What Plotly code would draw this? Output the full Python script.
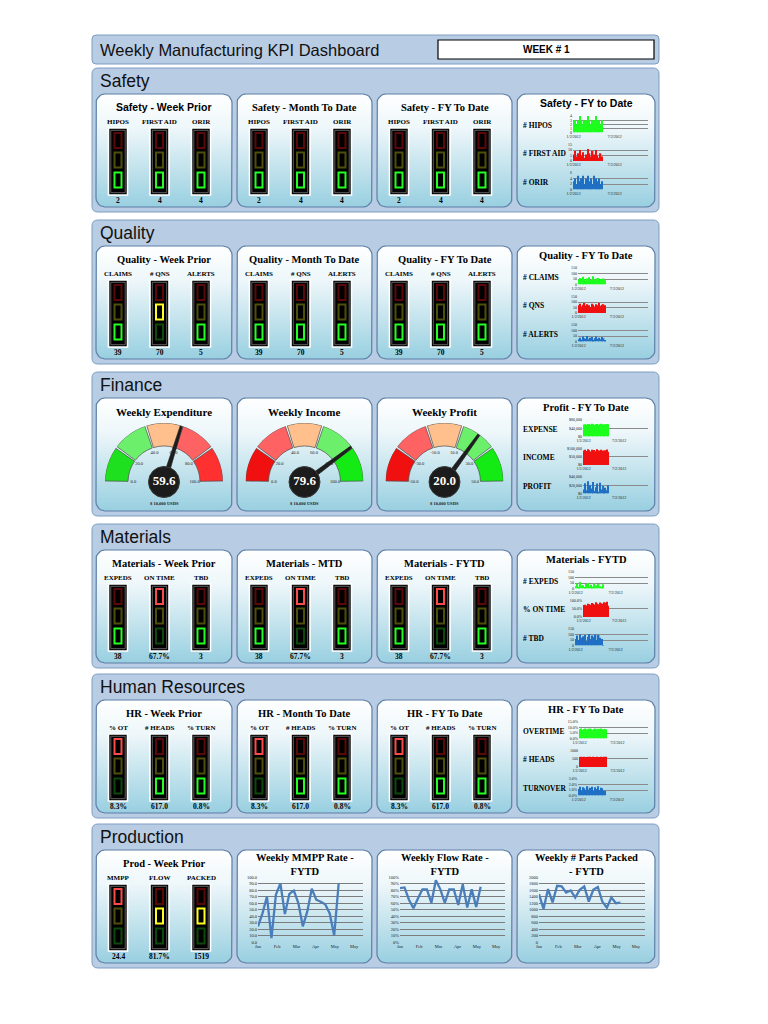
import numpy as np
import pandas as pd
import plotly.graph_objects as go

W, H = 768, 1024
SERIF = "Liberation Serif, Times New Roman, serif"
SANS = "Liberation Sans, Arial, sans-serif"

# ======================= DATA =======================
dashboard_title = "Weekly Manufacturing KPI Dashboard"
week_text = "WEEK # 1"
section_names = ["Safety", "Quality", "Finance", "Materials", "Human Resources", "Production"]

# traffic-light panels
safety_titles = ["Safety - Week Prior", "Safety - Month To Date", "Safety - FY To Date"]
safety_kpis = ["HIPOS", "FIRST AID", "ORIR"]
safety_values = [["2", "4", "4"], ["2", "4", "4"], ["2", "4", "4"]]
safety_status = [["G", "G", "G"], ["G", "G", "G"], ["G", "G", "G"]]

quality_titles = ["Quality - Week Prior", "Quality - Month To Date", "Quality - FY To Date"]
quality_kpis = ["CLAIMS", "# QNS", "ALERTS"]
quality_values = [["39", "70", "5"], ["39", "70", "5"], ["39", "70", "5"]]
quality_status = [["G", "Y", "G"], ["G", "G", "G"], ["G", "G", "G"]]

materials_titles = ["Materials - Week Prior", "Materials - MTD", "Materials - FYTD"]
materials_kpis = ["EXPEDS", "ON TIME", "TBD"]
materials_values = [["38", "67.7%", "3"], ["38", "67.7%", "3"], ["38", "67.7%", "3"]]
materials_status = [["G", "R", "G"], ["G", "R", "G"], ["G", "R", "G"]]

hr_titles = ["HR - Week Prior", "HR - Month To Date", "HR - FY To Date"]
hr_kpis = ["% OT", "# HEADS", "% TURN"]
hr_values = [["8.3%", "617.0", "0.8%"], ["8.3%", "617.0", "0.8%"], ["8.3%", "617.0", "0.8%"]]
hr_status = [["R", "G", "G"], ["R", "G", "G"], ["R", "G", "G"]]

prod_titles = ["Prod - Week Prior"]
prod_kpis = ["MMPP", "FLOW", "PACKED"]
prod_values = [["24.4", "81.7%", "1519"]]
prod_status = [["R", "Y", "Y"]]

# gauges
gauge_titles = ["Weekly Expenditure", "Weekly Income", "Weekly Profit"]
gauge_values = [59.6, 79.6, 20.0]
gauge_min = [0, 0, -50]
gauge_max = [100, 100, 50]
gauge_unit = "$ 10,000 USDS"

# weekly FYTD series (19 weeks from 2012-01-02)
week_dates = pd.date_range("2012-01-02", periods=19, freq="7D")

safety_fy_title = "Safety - FY to Date"
safety_fy_labels = ["# HIPOS", "# FIRST AID", "# ORIR"]
safety_hipos = [3, 3, 2, 3, 4, 3, 2, 3, 3, 4, 3, 2, 3, 3, 4, 3, 3, 2, 3]
safety_first_aid = [6, 9, 4, 7, 10, 5, 8, 3, 6, 11, 7, 4, 9, 6, 10, 5, 3, 7, 4]
safety_orir = [3, 4, 2, 5, 3, 4, 5, 2, 4, 5, 3, 4, 2, 5, 4, 3, 4, 2, 3]

quality_fy_title = "Quality - FY To Date"
quality_fy_labels = ["# CLAIMS", "# QNS", "# ALERTS"]
quality_claims = [45, 60, 40, 70, 50, 35, 55, 65, 40, 50, 75, 45, 55, 60, 40, 50, 45, 55, 39]
quality_qns = [70, 85, 60, 75, 90, 65, 80, 70, 55, 85, 75, 60, 80, 70, 90, 65, 75, 80, 70]
quality_alerts = [20, 35, 15, 45, 30, 25, 50, 20, 35, 40, 15, 30, 45, 25, 35, 20, 40, 30, 5]

profit_fy_title = "Profit - FY To Date"
profit_fy_labels = ["EXPENSE", "INCOME", "PROFIT"]
fin_expense = [58000, 60000, 57000, 61000, 59000, 58000, 62000, 60000, 57000, 59000,
               61000, 58000, 60000, 62000, 59000, 57000, 60000, 61000, 59600]
fin_income = [88000, 92000, 85000, 95000, 90000, 82000, 93000, 87000, 91000, 84000,
              96000, 89000, 86000, 92000, 88000, 83000, 90000, 94000, 79600]
fin_profit = [10000, 25000, 8000, 30000, 5000, 20000, 12000, 28000, 6000, 15000,
              24000, 4000, 26000, 10000, 18000, 3000, 14000, 8000, 20000]

materials_fy_title = "Materials - FYTD"
materials_fy_labels = ["# EXPEDS", "% ON TIME", "# TBD"]
mat_expeds = [20, 45, 15, 60, 25, 30, 10, 40, 50, 20, 35, 15, 45, 25, 30, 40, 20, 10, 38]
mat_on_time = [0.72, 0.75, 0.70, 0.80, 0.78, 0.74, 0.85, 0.80, 0.76, 0.90,
               0.82, 0.78, 0.88, 0.84, 0.80, 0.90, 0.86, 0.92, 0.677]
mat_tbd = [60, 90, 50, 100, 70, 85, 95, 40, 80, 105, 60, 90, 75, 100, 50, 95, 70, 60, 3]

hr_fy_title = "HR - FY To Date"
hr_fy_labels = ["OVERTIME", "# HEADS", "TURNOVER"]
hr_overtime = [0.085, 0.090, 0.080, 0.087, 0.092, 0.083, 0.088, 0.090, 0.085, 0.080,
               0.087, 0.090, 0.084, 0.088, 0.086, 0.090, 0.083, 0.087, 0.083]
hr_heads = [610, 615, 605, 620, 612, 608, 618, 614, 606, 616, 611, 609, 619, 613, 607, 617, 612, 615, 617]
hr_turnover = [0.012, 0.016, 0.009, 0.015, 0.013, 0.010, 0.017, 0.011, 0.014, 0.016,
               0.008, 0.015, 0.012, 0.017, 0.010, 0.014, 0.013, 0.009, 0.008]

# production FYTD line charts
prod_line_titles = ["Weekly MMPP Rate -<br>FYTD", "Weekly Flow Rate -<br>FYTD", "Weekly # Parts Packed<br>- FYTD"]
mmpp_rate = [24, 44, 70, 6, 73, 90, 43, 74, 79, 60, 24, 47, 82, 65, 62, 58, 44, 10, 90]
flow_rate = [0.83, 0.84, 0.65, 0.52, 0.67, 0.81, 0.81, 0.60, 0.95, 0.81, 0.60, 0.81,
             0.81, 0.57, 0.89, 0.53, 0.81, 0.54, 0.85]
parts_packed = [1477, 1015, 1630, 1218, 1730, 1710, 1523, 1585, 1368, 1606,
                1710, 1244, 1606, 1690, 1244, 1057, 1368, 1192, 1210]

# ======================= LAYOUT HELPERS =======================
SEC_TOPS = [68, 220, 372, 524, 674, 824]
SEC_H = 144
PANEL_X = [(96, 232), (237, 372), (377, 512), (517, 655)]

fig = go.Figure()
shapes, annotations = [], []
layout = {}


def fx(px):
    return px / W


def fy(py):
    return 1 - py / H


def rr_path(x0, y0, x1, y1, r):
    return (f"M{x0+r},{y0} L{x1-r},{y0} Q{x1},{y0} {x1},{y0+r} L{x1},{y1-r} "
            f"Q{x1},{y1} {x1-r},{y1} L{x0+r},{y1} Q{x0},{y1} {x0},{y1-r} "
            f"L{x0},{y0+r} Q{x0},{y0} {x0+r},{y0} Z")


def rr_points(x0, y0, x1, y1, r, n=7):
    xs, ys = [], []
    for cx, cy, a0, a1 in [(x1 - r, y0 + r, -90, 0), (x1 - r, y1 - r, 0, 90),
                           (x0 + r, y1 - r, 90, 180), (x0 + r, y0 + r, 180, 270)]:
        for t in np.linspace(a0, a1, n):
            xs.append(cx + r * np.cos(np.radians(t)))
            ys.append(cy + r * np.sin(np.radians(t)))
    xs.append(xs[0])
    ys.append(ys[0])
    return xs, ys


def rect(x0, y0, x1, y1, fill, line, lw, layer="above"):
    shapes.append(dict(type="rect", xref="x", yref="y", x0=x0, y0=y0, x1=x1, y1=y1,
                       fillcolor=fill, line=dict(color=line, width=lw), layer=layer))


def ann(x, y, text, size, family=SERIF, color="#000", xanchor="center", bold=True):
    annotations.append(dict(x=x, y=y, xref="x", yref="y",
                            text=f"<b>{text}</b>" if bold else text, showarrow=False,
                            font=dict(size=size, family=family, color=color),
                            xanchor=xanchor, yanchor="middle"))


def panel(x0, y0, x1, y1):
    xs, ys = rr_points(x0, y0, x1, y1, 9)
    fig.add_trace(go.Scatter(
        x=xs, y=ys, mode="lines", fill="toself", hoverinfo="skip", showlegend=False,
        line=dict(color="#5d7fa6", width=1.2),
        fillgradient=dict(type="vertical", start=y0, stop=y1,
                          colorscale=[[0, "#ffffff"], [0.3, "#eef7fa"], [1, "#98cfe0"]]),
        xaxis="x", yaxis="y"))


LAMP_OFF = {"R": "#5c0808", "Y": "#4f4f0c", "G": "#0b4a0b"}
LAMP_ON = {"R": "#ff4a4a", "Y": "#ffff22", "G": "#22ff22"}


def light(cx, top, state):
    bw, bh = 19, 67
    rect(cx - bw / 2, top, cx + bw / 2, top + bh, "#000000", "#ffffff", 1.6)
    rect(cx - bw / 2 + 2.3, top + 2.3, cx + bw / 2 - 2.3, top + bh - 2.3,
         "rgba(0,0,0,0)", "#777777", 0.8)
    for k, c in enumerate("RYG"):
        cy = top + [12.5, 32, 52][k]
        col = LAMP_ON[c] if state == c else LAMP_OFF[c]
        rect(cx - 3.5, cy - 7.5, cx + 3.5, cy + 7.5, "#000000", col, 2)


# canvas axes (pixel coordinates)
layout["xaxis"] = dict(domain=[0, 1], range=[0, W], visible=False, fixedrange=True, automargin=False)
layout["yaxis"] = dict(domain=[0, 1], range=[H, 0], visible=False, fixedrange=True, automargin=False)

# header
shapes.append(dict(type="path", xref="x", yref="y", path=rr_path(92, 35, 659, 64, 4),
                   fillcolor="#b8cce4", line=dict(color="#7f9dc2", width=1), layer="below"))
rect(438, 40, 654, 59, "#ffffff", "#000000", 1.2, layer="below")
ann(98, 49.5, dashboard_title, 16.5, SANS, "#111", "left", bold=False)
ann(546, 49.5, week_text, 10, SANS, "#000", "center", bold=True)

# section boxes
for si, T in enumerate(SEC_TOPS):
    shapes.append(dict(type="path", xref="x", yref="y", path=rr_path(92, T, 659, T + SEC_H, 6),
                       fillcolor="#b8cce4", line=dict(color="#7f9dc2", width=1), layer="below"))
    ann(98, T + 13, section_names[si], 17.5, SANS, "#111", "left", bold=False)
    for (x0, x1) in PANEL_X:
        panel(x0, T + 26, x1, T + 139)

# traffic-light panels
light_groups = [
    (0, safety_titles, safety_kpis, safety_values, safety_status, [SANS, SERIF, SERIF]),
    (1, quality_titles, quality_kpis, quality_values, quality_status, [SERIF] * 3),
    (3, materials_titles, materials_kpis, materials_values, materials_status, [SERIF] * 3),
    (4, hr_titles, hr_kpis, hr_values, hr_status, [SERIF] * 3),
    (5, prod_titles, prod_kpis, prod_values, prod_status, [SERIF]),
]
for si, titles, kpis, vals, stats, fams in light_groups:
    T = SEC_TOPS[si]
    for pi, title in enumerate(titles):
        x0, x1 = PANEL_X[pi]
        ann((x0 + x1) / 2, T + 39, title, 10.5, fams[pi])
        for k in range(3):
            cx = x0 + [22, 63.5, 105][k]
            ann(cx, T + 54, kpis[k], 7, SERIF)
            light(cx, T + 60, stats[pi][k])
            ann(cx, T + 132.5, vals[pi][k], 7.5, SERIF)

# gauges
T = SEC_TOPS[2]
band_sets = [
    ["#1fe01f", "#6cf06c", "#ffc08e", "#ff6262", "#ff3030"],
    ["#f01010", "#ff6262", "#ffc08e", "#6cf06c", "#14ea14"],
    ["#f01010", "#ff6262", "#ffc08e", "#6cf06c", "#14ea14"],
]
for gi in range(3):
    x0, x1 = PANEL_X[gi]
    cx = (x0 + x1) / 2
    base_y = T + 110
    R = 59
    pk = "polar" if gi == 0 else f"polar{gi + 1}"
    layout[pk] = dict(
        domain=dict(x=[fx(cx - R), fx(cx + R)], y=[fy(base_y), fy(base_y - R)]),
        sector=[0, 180], bgcolor="rgba(0,0,0,0)",
        radialaxis=dict(visible=False, range=[0, 1]),
        angularaxis=dict(visible=False, rotation=180, direction="clockwise"))
    ann(cx, T + 40, gauge_titles[gi], 11, SERIF)
    lo, hi = gauge_min[gi], gauge_max[gi]
    tick_vals = np.linspace(lo, hi, 6)
    tick_theta = [(v - lo) / (hi - lo) * 180 for v in tick_vals]
    tick_text = [f"{v:.1f}" for v in tick_vals]
    fig.add_trace(go.Barpolar(
        r=[0.39] * 5, base=[0.61] * 5, theta=[18, 54, 90, 126, 162], width=[34] * 5,
        marker=dict(color=band_sets[gi], line=dict(color="#4a4a4a", width=0.7)),
        hoverinfo="skip", showlegend=False, subplot=pk))
    fig.add_trace(go.Scatterpolar(
        r=[0.52] * 6, theta=tick_theta, mode="text", text=tick_text, cliponaxis=False,
        textfont=dict(size=4.5, family=SERIF, color="#222"), hoverinfo="skip",
        showlegend=False, subplot=pk))
    v = gauge_values[gi]
    th = (v - lo) / (hi - lo) * 180
    fig.add_trace(go.Scatterpolar(
        r=[0.99, 0.99, 0.2, 0.2, 0.99], theta=[th - 1.2, th + 1.2, th + 11, th - 11, th - 1.2],
        mode="lines", fill="toself", fillcolor="#1e1e1e", line=dict(color="#1e1e1e", width=0.6),
        hoverinfo="skip", showlegend=False, subplot=pk, cliponaxis=False))
    fig.add_trace(go.Scatterpolar(
        r=[0], theta=[0], mode="markers+text", text=[f"<b>{v:.1f}</b>"],
        textposition="middle center", cliponaxis=False,
        marker=dict(size=31, color="#1c1c1c", line=dict(color="#3a3a3a", width=1)),
        textfont=dict(size=13, family=SERIF, color="#ffffff"),
        hoverinfo="skip", showlegend=False, subplot=pk))
    ann(cx, T + 131, gauge_unit, 4.5, SERIF, "#222")

# sparkline panels (column 4)
spark_groups = [
    (0, safety_fy_title, SANS, safety_fy_labels, [safety_hipos, safety_first_aid, safety_orir],
     [4, 15, 6], [1, 5, 2], ["d", "d", "d"], ["", "", ""], [573, 573, 573]),
    (1, quality_fy_title, SERIF, quality_fy_labels, [quality_claims, quality_qns, quality_alerts],
     [150, 150, 150], [50, 50, 50], ["d", "d", "d"], ["", "", ""], [578, 578, 578]),
    (2, profit_fy_title, SERIF, profit_fy_labels, [fin_expense, fin_income, fin_profit],
     [80000, 100000, 40000], [40000, 50000, 20000], [",.0f"] * 3, ["$"] * 3, [583, 583, 583]),
    (3, materials_fy_title, SERIF, materials_fy_labels, [mat_expeds, mat_on_time, mat_tbd],
     [150, 1.0, 150], [50, 0.5, 50], ["d", ".1%", "d"], ["", "", ""], [575, 583, 575]),
    (4, hr_fy_title, SERIF, hr_fy_labels, [hr_overtime, hr_heads, hr_turnover],
     [0.15, 1000, 0.03], [0.05, 500, 0.01], [".1%", "d", ".1%"], ["", "", ""], [579, 579, 578]),
]
spark_colors = ["#1cff1c", "#f01010", "#1f6fc4"]
DAY = 86400000
ax = 2
for si, title, fam, labels, series, ymaxs, dticks, fmts, prefs, lefts in spark_groups:
    T = SEC_TOPS[si]
    x0, x1 = PANEL_X[3]
    ann((x0 + x1) / 2, T + 35, title, 10.5, fam)
    for i in range(3):
        yt = T + 48 + 28.5 * i
        yb = T + 64.5 + 28.5 * i
        ann(521, (yt + yb) / 2 + 1, labels[i], 7.5, SERIF, "#000", "left")
        layout[f"xaxis{ax}"] = dict(
            domain=[fx(lefts[i]), fx(648)], anchor=f"y{ax}", type="date",
            range=["2011-12-30", "2012-11-27"], tickvals=["2012-01-02", "2012-07-02"],
            tickformat="%-m/%-d/%Y", tickfont=dict(size=4, family=SERIF, color="#222"),
            showgrid=False, zeroline=False, showline=False, ticks="", fixedrange=True,
            automargin=False)
        layout[f"yaxis{ax}"] = dict(
            domain=[fy(yb), fy(yt)], anchor=f"x{ax}", range=[0, ymaxs[i]], dtick=dticks[i],
            tickformat=fmts[i], tickprefix=prefs[i], showgrid=True, gridcolor="#8a8a8a",
            gridwidth=0.8, zeroline=False, showline=False, ticks="",
            tickfont=dict(size=4, family=SERIF, color="#222"), fixedrange=True,
            automargin=False)
        fig.add_trace(go.Bar(x=week_dates, y=series[i], width=6.4 * DAY,
                             marker=dict(color=spark_colors[i], line=dict(width=0)),
                             hoverinfo="skip", showlegend=False,
                             xaxis=f"x{ax}", yaxis=f"y{ax}"))
        ax += 1

# production line charts
T = SEC_TOPS[5]
line_specs = [
    (1, mmpp_rate, 100, 10, ".1f", 258, 363),
    (2, flow_rate, 1.0, 0.1, ".0%", 400, 505),
    (3, parts_packed, 2000, 200, "d", 539, 645),
]
for li, (pi, vals, ymax, dt, fmt, xl, xr) in enumerate(line_specs):
    px0, px1 = PANEL_X[pi]
    ann((px0 + px1) / 2, T + 40, prod_line_titles[li], 10.5, SERIF)
    layout[f"xaxis{ax}"] = dict(
        domain=[fx(xl), fx(xr)], anchor=f"y{ax}", type="date",
        range=["2012-01-02", "2012-06-14"], tick0="2012-01-02", dtick=30 * DAY,
        tickformat="%b", tickfont=dict(size=4.5, family=SERIF, color="#222"),
        showgrid=False, zeroline=False, showline=False, ticks="", fixedrange=True,
        automargin=False)
    layout[f"yaxis{ax}"] = dict(
        domain=[fy(942), fy(877)], anchor=f"x{ax}", range=[0, ymax], dtick=dt,
        tickformat=fmt, showgrid=True, gridcolor="#7c7c7c", gridwidth=1.4,
        zeroline=False, showline=False, ticks="",
        tickfont=dict(size=4.5, family=SERIF, color="#222"), fixedrange=True,
        automargin=False)
    fig.add_trace(go.Scatter(x=week_dates, y=vals, mode="lines",
                             line=dict(color="#4a7ebb", width=2.3),
                             hoverinfo="skip", showlegend=False,
                             xaxis=f"x{ax}", yaxis=f"y{ax}"))
    ax += 1

fig.update_layout(
    template="none",
    width=W, height=H, margin=dict(l=0, r=0, t=0, b=0, pad=0, autoexpand=False), autosize=False,
    paper_bgcolor="#ffffff", plot_bgcolor="rgba(0,0,0,0)", showlegend=False,
    hovermode=False, shapes=shapes, annotations=annotations, **layout)

fig.write_html("out.html", config={"displayModeBar": False},
               post_script="document.body.style.margin='0px';")
